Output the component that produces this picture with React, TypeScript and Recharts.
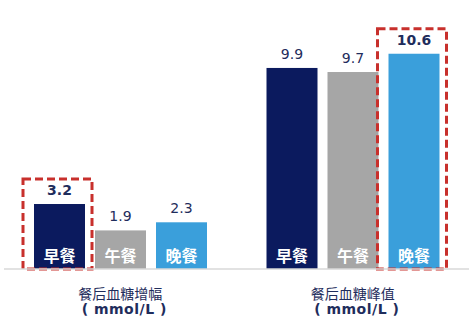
import React from 'react';
import { BarChart, Bar, XAxis, YAxis, LabelList } from 'recharts';

// 两组指标
const categories = ['餐后血糖增幅', '餐后血糖峰值'];
const unitLabel = '( mmol/L )';

// 三餐数值
const meals = ['早餐', '午餐', '晚餐'];
const breakfast = [3.2, 9.9];
const lunch = [1.9, 9.7];
const dinner = [2.3, 10.6];

// 每组中被红框圈出的餐次
const highlighted = ['早餐', '晚餐'];

const COLORS = ['#0b1a5e', '#a6a6a6', '#3a9fdb'];
const NAVY = '#1f2d5c';
const RED = '#c8302c';
const FONT = '"DejaVu Sans", "Noto Sans CJK SC", sans-serif';

const data = categories.map((name, i) => ({
  name,
  早餐: breakfast[i],
  午餐: lunch[i],
  晚餐: dinner[i],
}));

const makeShape = (meal: string, color: string) => (props: any) => {
  const { x, y, width, height, index } = props;
  const isHi = highlighted[index] === meal;
  const bottom = y + height;
  return (
    <g>
      <rect x={x} y={y} width={width} height={height} fill={color} />
      <text
        x={x + width / 2}
        y={bottom - 7}
        textAnchor="middle"
        fill="#fff"
        fontSize={16}
        fontWeight="bold"
        fontFamily={FONT}
      >
        {meal}
      </text>
      {isHi && (
        <rect
          x={x - 11}
          y={y - 25}
          width={width + 18}
          height={height + 25}
          fill="none"
          stroke={RED}
          strokeWidth={3}
          strokeDasharray="8 4"
        />
      )}
    </g>
  );
};

const makeLabel = (meal: string) => (props: any) => {
  const { x, y, width, value, index } = props;
  const isHi = highlighted[index] === meal;
  return (
    <text
      x={x + width / 2}
      y={y - 9}
      textAnchor="middle"
      fill={NAVY}
      fontSize={14}
      fontWeight={isHi ? 'bold' : 'normal'}
      fontFamily={FONT}
    >
      {value}
    </text>
  );
};

const CategoryTick = (props: any) => {
  const { x, y, payload } = props;
  return (
    <g>
      <text x={x} y={y + 22} textAnchor="middle" fill={NAVY} fontSize={14} fontFamily={FONT}>
        {payload.value}
      </text>
      <text
        x={x + 4}
        y={y + 37}
        textAnchor="middle"
        fill={NAVY}
        fontSize={14}
        fontWeight="bold"
        letterSpacing={0.5}
        fontFamily={FONT}
      >
        {unitLabel}
      </text>
    </g>
  );
};

export default function App() {
  return (
    <div style={{ position: 'absolute', left: 0, top: 0, width: 469, height: 324, background: '#fff' }}>
      <BarChart
        width={469}
        height={324}
        data={data}
        margin={{ top: 5, right: 0, left: 4, bottom: 0 }}
        barSize={51}
        barGap={10}
      >
        <XAxis
          dataKey="name"
          height={55}
          axisLine={{ stroke: '#d9d9d9', strokeWidth: 1.5 }}
          tickLine={false}
          tick={<CategoryTick />}
          interval={0}
        />
        <YAxis hide domain={[0, 13]} />
        {meals.map((meal, i) => (
          <Bar
            key={meal}
            dataKey={meal}
            fill={COLORS[i]}
            shape={makeShape(meal, COLORS[i])}
            isAnimationActive={false}
          >
            <LabelList dataKey={meal} content={makeLabel(meal)} />
          </Bar>
        ))}
      </BarChart>
    </div>
  );
}
